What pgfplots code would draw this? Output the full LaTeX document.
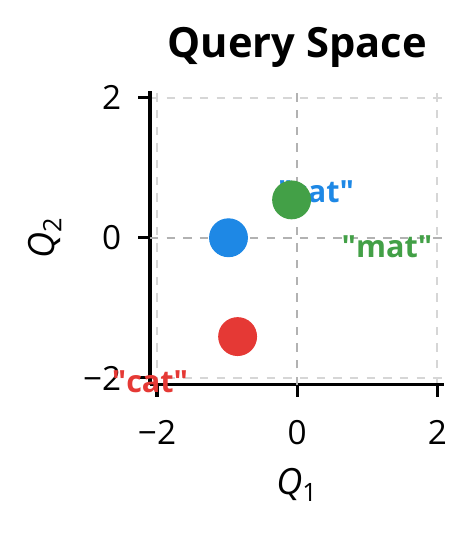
\documentclass[border=0pt]{standalone}
\usepackage{pgfplots}
\pgfplotsset{compat=1.18}
\usepackage{fontspec}
\setmainfont{Open Sans}
\definecolor{cblue}{HTML}{1E88E5}
\definecolor{cgreen}{HTML}{43A047}
\definecolor{cred}{HTML}{E53935}
\begin{document}
\begin{tikzpicture}
\begin{axis}[
  scale only axis,
  width=106pt, height=106pt,
  xmin=-2.1, xmax=2.1, ymin=-2.1, ymax=2.1,
  axis x line*=bottom, axis y line*=left,
  axis line style={line width=1.1pt, -},
  xtick={-2,0,2}, ytick={-2,0,2},
  xticklabels={−2,0,2}, yticklabels={−2,0,2},
  tick align=outside, major tick length=4.3pt,
  tick style={line width=1.1pt, black},
  tick label style={font=\fontsize{12}{14}\selectfont},
  xticklabel style={yshift=-5pt},
  yticklabel style={xshift=-2.5pt},
  grid=major,
  major grid style={dashed, black!16, line width=0.7pt},
  clip=false,
  title={Query Space},
  title style={font=\fontsize{15}{17}\selectfont\bfseries, at={(axis description cs:0.5,1.055)}, anchor=base},
  xlabel={{\itshape Q}\textsubscript{1}},
  ylabel={{\itshape Q}\textsubscript{2}},
  label style={font=\fontsize{13}{15}\selectfont},
  xlabel style={at={(axis description cs:0.5,-0.34)}, anchor=center},
  ylabel style={at={(axis description cs:-0.357,0.5)}, anchor=center},
]
\addplot[dashed, black!30, line width=0.8pt] coordinates {(-2.1,0) (2.1,0)};
\addplot[dashed, black!30, line width=0.8pt] coordinates {(0,-2.1) (0,2.1)};
\addplot[only marks, mark=*, mark size=6.8pt, cblue, mark options={draw=cblue, fill=cblue}] coordinates {(-0.98,0)};
\addplot[only marks, mark=*, mark size=6.8pt, cred, mark options={draw=cred, fill=cred}] coordinates {(-0.85,-1.41)};
\addplot[only marks, mark=none, nodes near coords={\textquotedbl sat\textquotedbl}, nodes near coords style={anchor=center, text=cblue, font=\fontsize{11}{13}\selectfont\bfseries}] coordinates {(0.27,0.66)};
\addplot[only marks, mark=*, mark size=6.8pt, cgreen, mark options={draw=cgreen, fill=cgreen}] coordinates {(-0.08,0.54)};
\addplot[only marks, mark=none, nodes near coords={\textquotedbl mat\textquotedbl}, nodes near coords style={anchor=center, text=cgreen, font=\fontsize{11}{13}\selectfont\bfseries}] coordinates {(1.28,-0.13)};
\addplot[only marks, mark=none, nodes near coords={\textquotedbl cat\textquotedbl}, nodes near coords style={anchor=center, text=cred, font=\fontsize{11}{13}\selectfont\bfseries}] coordinates {(-2.1,-2.05)};
\end{axis}
\pgfresetboundingbox
\path (current axis.south west) ++(-54pt,-53.3pt) rectangle ++(170.6pt,191.9pt);
\end{tikzpicture}
\end{document}
